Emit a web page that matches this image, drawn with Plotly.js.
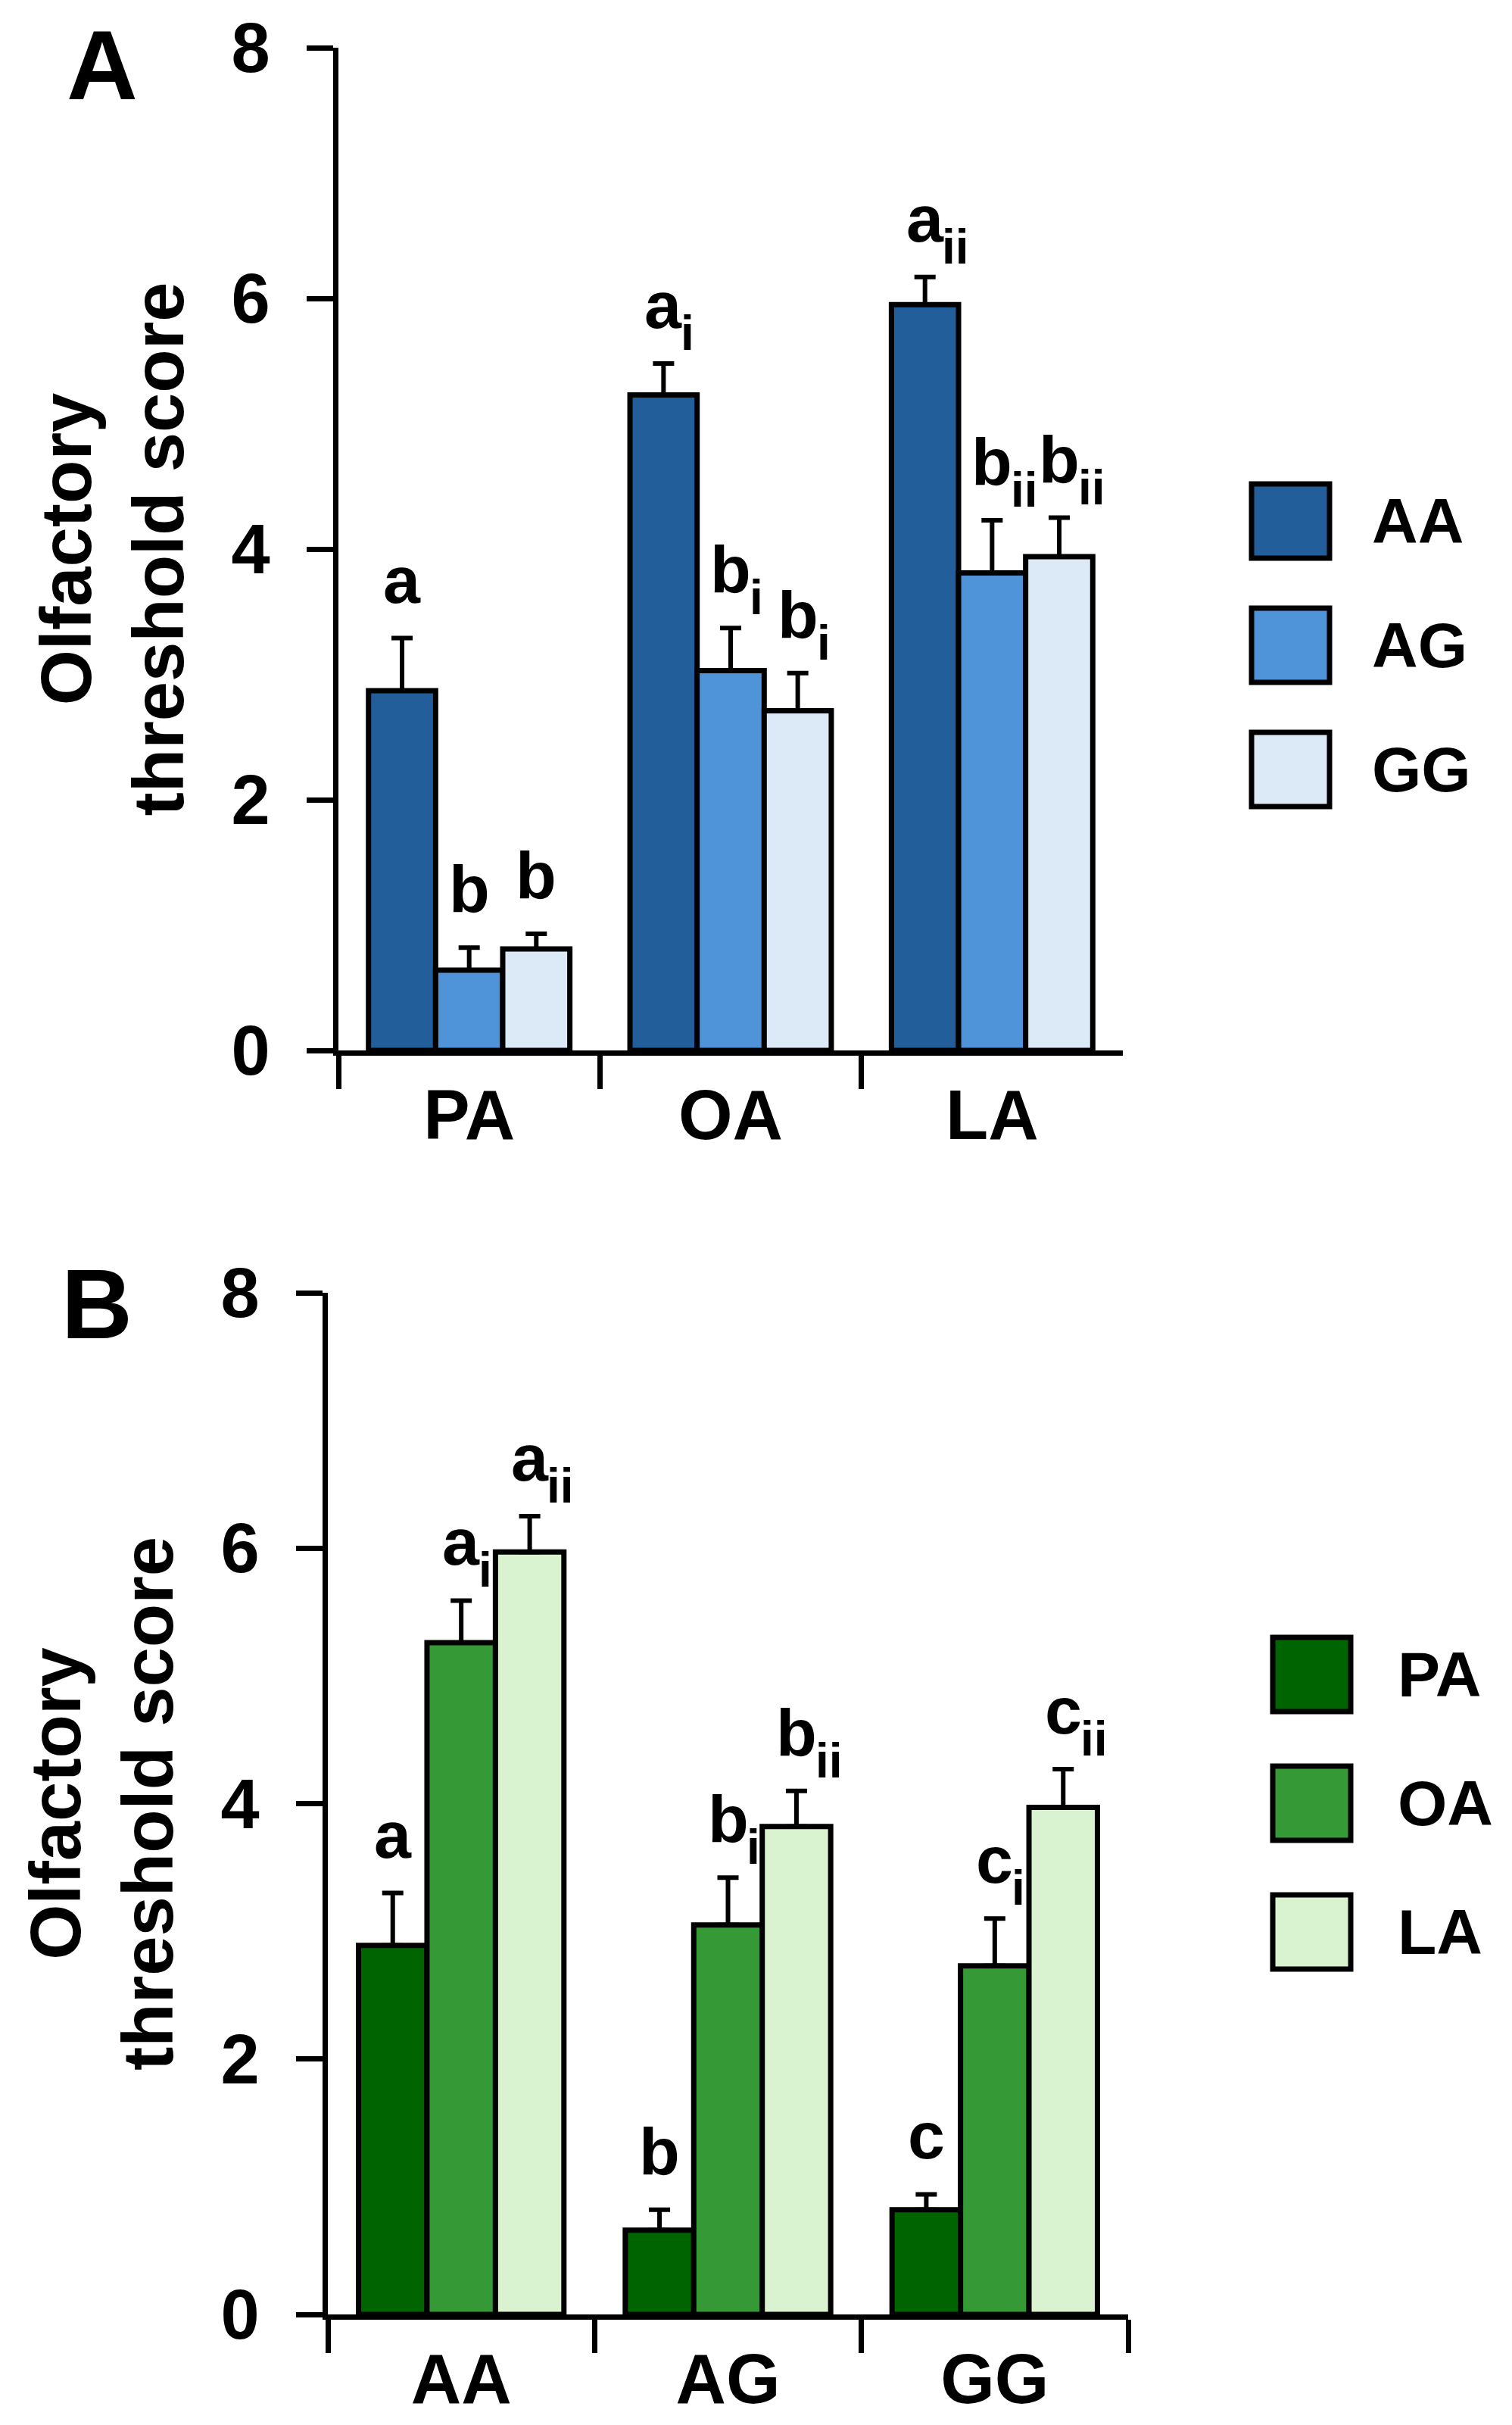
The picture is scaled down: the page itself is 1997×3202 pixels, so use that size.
<!DOCTYPE html>
<html>
<head>
<meta charset="utf-8">
<script src="https://cdn.plot.ly/plotly-3.0.1.min.js"></script>
<style>
  html, body { margin: 0; padding: 0; background: #ffffff; }
  #chart { width: 1997px; height: 3202px; }
</style>
</head>
<body>
<div id="chart"></div>
<script>
// ---------------- DATA ----------------
// Panel A: fatty acids on x, genotype series
const catsA = ['PA', 'OA', 'LA'];
const seriesA = ['AA', 'AG', 'GG'];
const valsA_AA = [2.87, 5.23, 5.95];
const valsA_AG = [0.64, 3.03, 3.81];
const valsA_GG = [0.81, 2.71, 3.94];
const errA_AA = [0.42, 0.25, 0.22];
const errA_AG = [0.18, 0.34, 0.42];
const errA_GG = [0.12, 0.30, 0.31];
// significance letters: letter + subscript
const lettersA_AA = ['a', 'a', 'a'];
const subsA_AA = ['', 'i', 'ii'];
const lettersA_AG = ['b', 'b', 'b'];
const subsA_AG = ['', 'i', 'ii'];
const lettersA_GG = ['b', 'b', 'b'];
const subsA_GG = ['', 'i', 'ii'];

// Panel B: genotypes on x, fatty acid series
const catsB = ['AA', 'AG', 'GG'];
const seriesB = ['PA', 'OA', 'LA'];
const valsB_PA = [2.89, 0.66, 0.82];
const valsB_OA = [5.26, 3.05, 2.73];
const valsB_LA = [5.97, 3.82, 3.97];
const errB_PA = [0.41, 0.16, 0.12];
const errB_OA = [0.33, 0.37, 0.37];
const errB_LA = [0.28, 0.28, 0.30];
const lettersB_PA = ['a', 'b', 'c'];
const subsB_PA = ['', '', ''];
const lettersB_OA = ['a', 'b', 'c'];
const subsB_OA = ['i', 'i', 'i'];
const lettersB_LA = ['a', 'b', 'c'];
const subsB_LA = ['ii', 'ii', 'ii'];

const yTickVals = [0, 2, 4, 6, 8];
const yTitle = 'Olfactory<br>threshold score';
const panelLetters = ['A', 'B'];

// ---------------- STYLE ----------------
const colorsA = ['#225e9a', '#4f94d8', '#dce9f6'];
const colorsB = ['#006400', '#359935', '#d9f3d1'];
const FONT = 'Liberation Sans, Arial, sans-serif';
const W = 1997, H = 3202;
const px = x => x / W;
const py = y => 1 - y / H;
const BARGAP = 0.23;
const nSeries = 3;
const barW = (1 - BARGAP) / nSeries;
const LETTER_SIZE = 88;
const SUB_SIZE = 64;
// approximate bold glyph advance widths (em) used only to place the subscript after its letter
const CHAR_EM = { a: 0.556, b: 0.611, c: 0.556, i: 0.278 };
const textW = (s, size) => s.split('').reduce((t, ch) => t + (CHAR_EM[ch] || 0.55) * size, 0);

const valsA = [valsA_AA, valsA_AG, valsA_GG];
const errA = [errA_AA, errA_AG, errA_GG];
const lettersA = [lettersA_AA, lettersA_AG, lettersA_GG];
const subsA = [subsA_AA, subsA_AG, subsA_GG];
const valsB = [valsB_PA, valsB_OA, valsB_LA];
const errB = [errB_PA, errB_OA, errB_LA];
const lettersB = [lettersB_PA, lettersB_OA, lettersB_LA];
const subsB = [subsB_PA, subsB_OA, subsB_LA];

const traces = [];
const annotations = [];

function addPanel(cats, names, vals, errs, letters, subs, colors, xa, ya) {
  names.forEach((nm, i) => {
    traces.push({
      type: 'bar',
      name: nm,
      x: cats,
      y: vals[i],
      xaxis: xa,
      yaxis: ya,
      showlegend: false,
      hoverinfo: 'skip',
      marker: { color: colors[i], line: { color: '#000000', width: 7 } },
      error_y: {
        type: 'data', symmetric: false,
        array: errs[i], arrayminus: errs[i].map(() => 0),
        color: '#000000', thickness: 6, width: 14
      }
    });
    cats.forEach((c, k) => {
      const xPos = k + (i - (nSeries - 1) / 2) * barW;
      const yPos = vals[i][k] + errs[i][k];
      const base = letters[i][k];
      const sub = subs[i][k];
      const wb = textW(base, LETTER_SIZE);
      annotations.push({
        xref: xa, yref: ya, x: xPos, y: yPos,
        text: base, showarrow: false,
        xanchor: 'center', yanchor: 'bottom',
        yshift: 26,
        font: { family: FONT, size: LETTER_SIZE, weight: 'bold', color: '#000000' }
      });
      if (sub) {
        annotations.push({
          xref: xa, yref: ya, x: xPos, y: yPos,
          text: sub, showarrow: false,
          xanchor: 'left', yanchor: 'bottom',
          xshift: wb / 2 - 4, yshift: 2,
          font: { family: FONT, size: SUB_SIZE, weight: 'bold', color: '#000000' }
        });
      }
    });
  });
}

addPanel(catsA, seriesA, valsA, errA, lettersA, subsA, colorsA, 'x', 'y');
addPanel(catsB, seriesB, valsB, errB, lettersB, subsB, colorsB, 'x2', 'y2');

// Custom legends (large boxes) -- shapes + text
const shapes = [];
function addLegend(names, colors, boxX0, boxX1, firstCenterY, stepY, textX) {
  names.forEach((nm, i) => {
    const cy = firstCenterY + i * stepY;
    shapes.push({
      type: 'rect', xref: 'paper', yref: 'paper',
      x0: px(boxX0), x1: px(boxX1), y0: py(cy + 49), y1: py(cy - 49),
      fillcolor: colors[i], line: { color: '#000000', width: 7 }
    });
    annotations.push({
      xref: 'paper', yref: 'paper', x: px(textX), y: py(cy),
      text: nm, showarrow: false, xanchor: 'left', yanchor: 'middle',
      font: { family: FONT, size: 84, weight: 'bold', color: '#000000' }
    });
  });
}
addLegend(seriesA, colorsA, 1653, 1756, 688, 164, 1810);
addLegend(seriesB, colorsB, 1681, 1784, 2211, 170, 1844);

// Panel letters
annotations.push({
  xref: 'paper', yref: 'paper', x: px(135), y: py(86), text: panelLetters[0],
  showarrow: false, xanchor: 'center', yanchor: 'middle',
  font: { family: FONT, size: 130, weight: 'bold', color: '#000000' }
});
annotations.push({
  xref: 'paper', yref: 'paper', x: px(128), y: py(1722), text: panelLetters[1],
  showarrow: false, xanchor: 'center', yanchor: 'middle',
  font: { family: FONT, size: 130, weight: 'bold', color: '#000000' }
});

function xAxis(domain, anchor) {
  return {
    domain: domain, anchor: anchor, type: 'category', range: [-0.5, 2.5],
    showline: true, linewidth: 7, linecolor: '#000000',
    ticks: 'outside', tickson: 'boundaries', ticklen: 44, tickwidth: 7, tickcolor: '#000000',
    tickfont: { family: FONT, size: 92, weight: 'bold', color: '#000000' },
    showgrid: false, zeroline: false, fixedrange: true
  };
}
function yAxis(domain, anchor) {
  return {
    domain: domain, anchor: anchor, range: [0, 8],
    tickmode: 'array', tickvals: yTickVals, ticktext: yTickVals.map(String),
    showline: true, linewidth: 7, linecolor: '#000000',
    ticks: 'outside', ticklen: 35, tickwidth: 7, tickcolor: '#000000',
    ticklabelstandoff: 30,
    tickfont: { family: FONT, size: 92, weight: 'bold', color: '#000000' },
    showgrid: false, zeroline: false, fixedrange: true,
    title: { text: yTitle, standoff: 34, font: { family: FONT, size: 94, weight: 'bold', color: '#000000' } }
  };
}

const layout = {
  width: W, height: H,
  margin: { l: 0, r: 0, t: 0, b: 0, pad: 0 },
  paper_bgcolor: '#ffffff', plot_bgcolor: '#ffffff',
  barmode: 'group', bargap: BARGAP, bargroupgap: 0,
  showlegend: false,
  xaxis: xAxis([px(447), px(1483)], 'y'),
  yaxis: yAxis([py(1387), py(63)], 'x'),
  xaxis2: xAxis([px(433), px(1490)], 'y2'),
  yaxis2: yAxis([py(3056), py(1707)], 'x2'),
  annotations: annotations,
  shapes: shapes
};

Plotly.newPlot('chart', traces, layout, { staticPlot: true, displayModeBar: false });
</script>
</body>
</html>
